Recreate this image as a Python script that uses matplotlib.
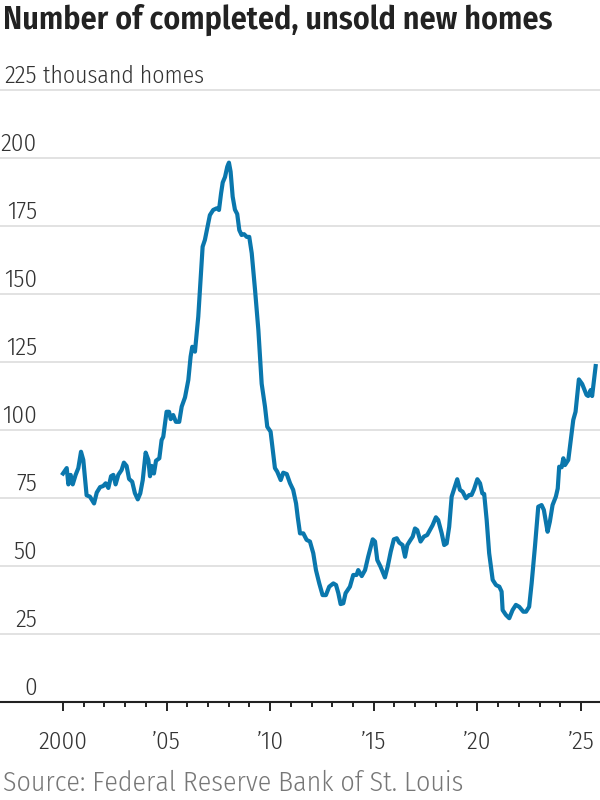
import matplotlib.pyplot as plt

plt.rcParams['font.family'] = ['Fira Sans Condensed', 'DejaVu Sans']

# Completed, unsold new homes (thousands)
years = [2000.0, 2000.18, 2000.26, 2000.37, 2000.47, 2000.61, 2000.74, 2000.87, 2000.98,
         2001.14, 2001.30, 2001.50, 2001.63, 2001.79, 2001.94, 2002.06, 2002.19, 2002.32,
         2002.43, 2002.54, 2002.67, 2002.83, 2002.94, 2003.07, 2003.19, 2003.34, 2003.47,
         2003.61, 2003.73, 2003.85, 2003.99, 2004.12, 2004.20, 2004.28, 2004.39, 2004.49,
         2004.65, 2004.76, 2004.84, 2005.00, 2005.12, 2005.20, 2005.32, 2005.45, 2005.61,
         2005.73, 2005.89, 2006.05, 2006.16, 2006.24, 2006.37, 2006.53, 2006.74, 2006.85,
         2006.96, 2007.09, 2007.25, 2007.42, 2007.53, 2007.63, 2007.71, 2007.82, 2007.93,
         2008.01, 2008.09, 2008.19, 2008.30, 2008.41, 2008.51, 2008.62, 2008.74, 2008.87,
         2008.99, 2009.11, 2009.27, 2009.43, 2009.59, 2009.75, 2009.86, 2010.02, 2010.23,
         2010.34, 2010.51, 2010.63, 2010.80, 2010.96, 2011.11, 2011.25, 2011.33, 2011.44,
         2011.60, 2011.76, 2011.92, 2012.08, 2012.21, 2012.37, 2012.53, 2012.69, 2012.85,
         2013.05, 2013.18, 2013.29, 2013.40, 2013.53, 2013.64, 2013.85, 2014.01, 2014.17,
         2014.25, 2014.42, 2014.58, 2014.73, 2014.95, 2015.06, 2015.17, 2015.33, 2015.54,
         2015.67, 2015.82, 2015.97, 2016.11, 2016.23, 2016.39, 2016.51, 2016.62, 2016.75,
         2016.88, 2016.99, 2017.10, 2017.26, 2017.42, 2017.58, 2017.71, 2017.84, 2018.00,
         2018.11, 2018.28, 2018.40, 2018.52, 2018.64, 2018.76, 2018.89, 2019.03, 2019.16,
         2019.29, 2019.45, 2019.61, 2019.72, 2019.84, 2020.00, 2020.13, 2020.24, 2020.33,
         2020.45, 2020.57, 2020.74, 2020.90, 2021.06, 2021.17, 2021.22, 2021.38, 2021.54,
         2021.70, 2021.86, 2022.02, 2022.22, 2022.35, 2022.50, 2022.62, 2022.78, 2022.94,
         2023.10, 2023.21, 2023.39, 2023.50, 2023.63, 2023.79, 2023.88, 2023.95, 2024.07,
         2024.15, 2024.23, 2024.39, 2024.50, 2024.63, 2024.74, 2024.90, 2025.06, 2025.27,
         2025.35, 2025.47, 2025.54, 2025.71]
homes = [84, 86, 80, 83.5, 80, 83.5, 86, 92, 89,
         76, 75.5, 73, 77, 79, 79.4, 80.4, 78.7, 83,
         83.5, 80, 83.5, 85.3, 88, 86.8, 82, 81, 76.8,
         74.5, 76.7, 81.6, 91.7, 89, 83, 86.8, 84, 88.7,
         89.6, 96.3, 97.5, 106.7, 106.7, 104, 105.5, 103, 103,
         108.6, 112, 118.4, 127, 130.6, 128.8, 141.7, 167.4, 169.9,
         174, 179, 180.9, 181.5, 180.9, 187, 191, 193, 196.8,
         198.3, 195, 185.8, 181, 179.4, 173.5, 171.7, 172, 171,
         171, 165, 151.5, 136.8, 117, 108.6, 101.2, 99.4, 86,
         84.7, 81.6, 84.3, 83.8, 80.4, 78, 73, 68, 62,
         62, 59.6, 59, 54.7, 48.5, 43.6, 39.3, 39.3, 42.4,
         43.6, 43, 40, 36, 36.3, 40, 42.4, 46.7, 46.7,
         48.5, 46.3, 48.5, 53.4, 59.8, 59, 52.2, 49.7, 45.8,
         49.7, 55.3, 59.8, 60.2, 58.6, 57.7, 53.4, 57.7, 59.3,
         60.8, 63.8, 63.2, 59, 60.8, 61.4, 63.2, 65, 67.9,
         66.9, 62, 57.7, 58.3, 64.4, 75.5, 78.6, 81.9, 78,
         77.3, 74.9, 76.1, 76.1, 78.2, 81.9, 80.4, 76.7, 76.5,
         66.9, 54.7, 44.9, 43, 42.4, 40.6, 33.8, 32, 30.8,
         33.8, 35.7, 35, 33.2, 33.2, 35, 43.6, 57.1, 71.8,
         72.4, 70.6, 62.6, 66.3, 72.4, 75.5, 78.5, 86.5, 86.3,
         89.6, 87.1, 89, 95.7, 103.7, 106.7, 118.6, 116.9, 112.9,
         112.5, 114.7, 112.5, 123.5]

y_ticks = [0, 25, 50, 75, 100, 125, 150, 175, 200, 225]
x_ticks = [2000, 2005, 2010, 2015, 2020, 2025]
x_labels = ['2000', '\u201905', '\u201910', '\u201915', '\u201920', '\u201925']

fig = plt.figure(figsize=(6, 8), dpi=100)
ax = fig.add_axes([0, 0.1225, 1, 0.7684])

ax.plot(years, homes, color='#0a77ad', lw=3, solid_joinstyle='round')
ax.set_xlim(1996.96, 2025.92)
ax.set_ylim(0, 226)

ax.set_yticks(y_ticks)
ax.yaxis.grid(True, color='#dddddd', lw=1.2)
ax.set_axisbelow(True)
ax.tick_params(axis='y', length=0, labelleft=False)

ax.set_xticks(x_ticks, x_labels)
ax.set_xticks([y for y in range(2001, 2025) if y % 5 != 0], minor=True)
ax.tick_params(axis='x', which='major', length=6.5, width=1.4, color='#222222',
               pad=14, labelsize=18, labelcolor='#333333')
ax.tick_params(axis='x', which='minor', length=3.6, width=1.4, color='#222222')
for lbl in ax.get_xticklabels():
    lbl.set_fontweight(300)

for s in ['top', 'left', 'right']:
    ax.spines[s].set_visible(False)
ax.spines['bottom'].set_linewidth(1.5)
ax.spines['bottom'].set_color('#222222')

# y labels sit above their gridlines
for v in y_ticks:
    ax.annotate(str(v), xy=(37 / 600, v), xycoords=('axes fraction', 'data'),
                xytext=(0, 5), textcoords='offset points', ha='right', va='baseline',
                fontsize=18, fontweight=300, color='#333333')
ax.annotate('thousand homes', xy=(43 / 600, 225), xycoords=('axes fraction', 'data'),
            xytext=(0, 5), textcoords='offset points', ha='left', va='baseline',
            fontsize=17, fontweight=300, color='#333333')

fig.text(0.005, 1 - 20 / 800, 'Number of completed, unsold new homes', fontsize=23,
         fontweight=600, va='center', ha='left', color='#222222')
fig.text(0.005, 1 - 783 / 800, 'Source: Federal Reserve Bank of St. Louis', fontsize=20,
         fontweight=300, va='center', ha='left', color='#777777')

fig.savefig('out.png', dpi=100)
